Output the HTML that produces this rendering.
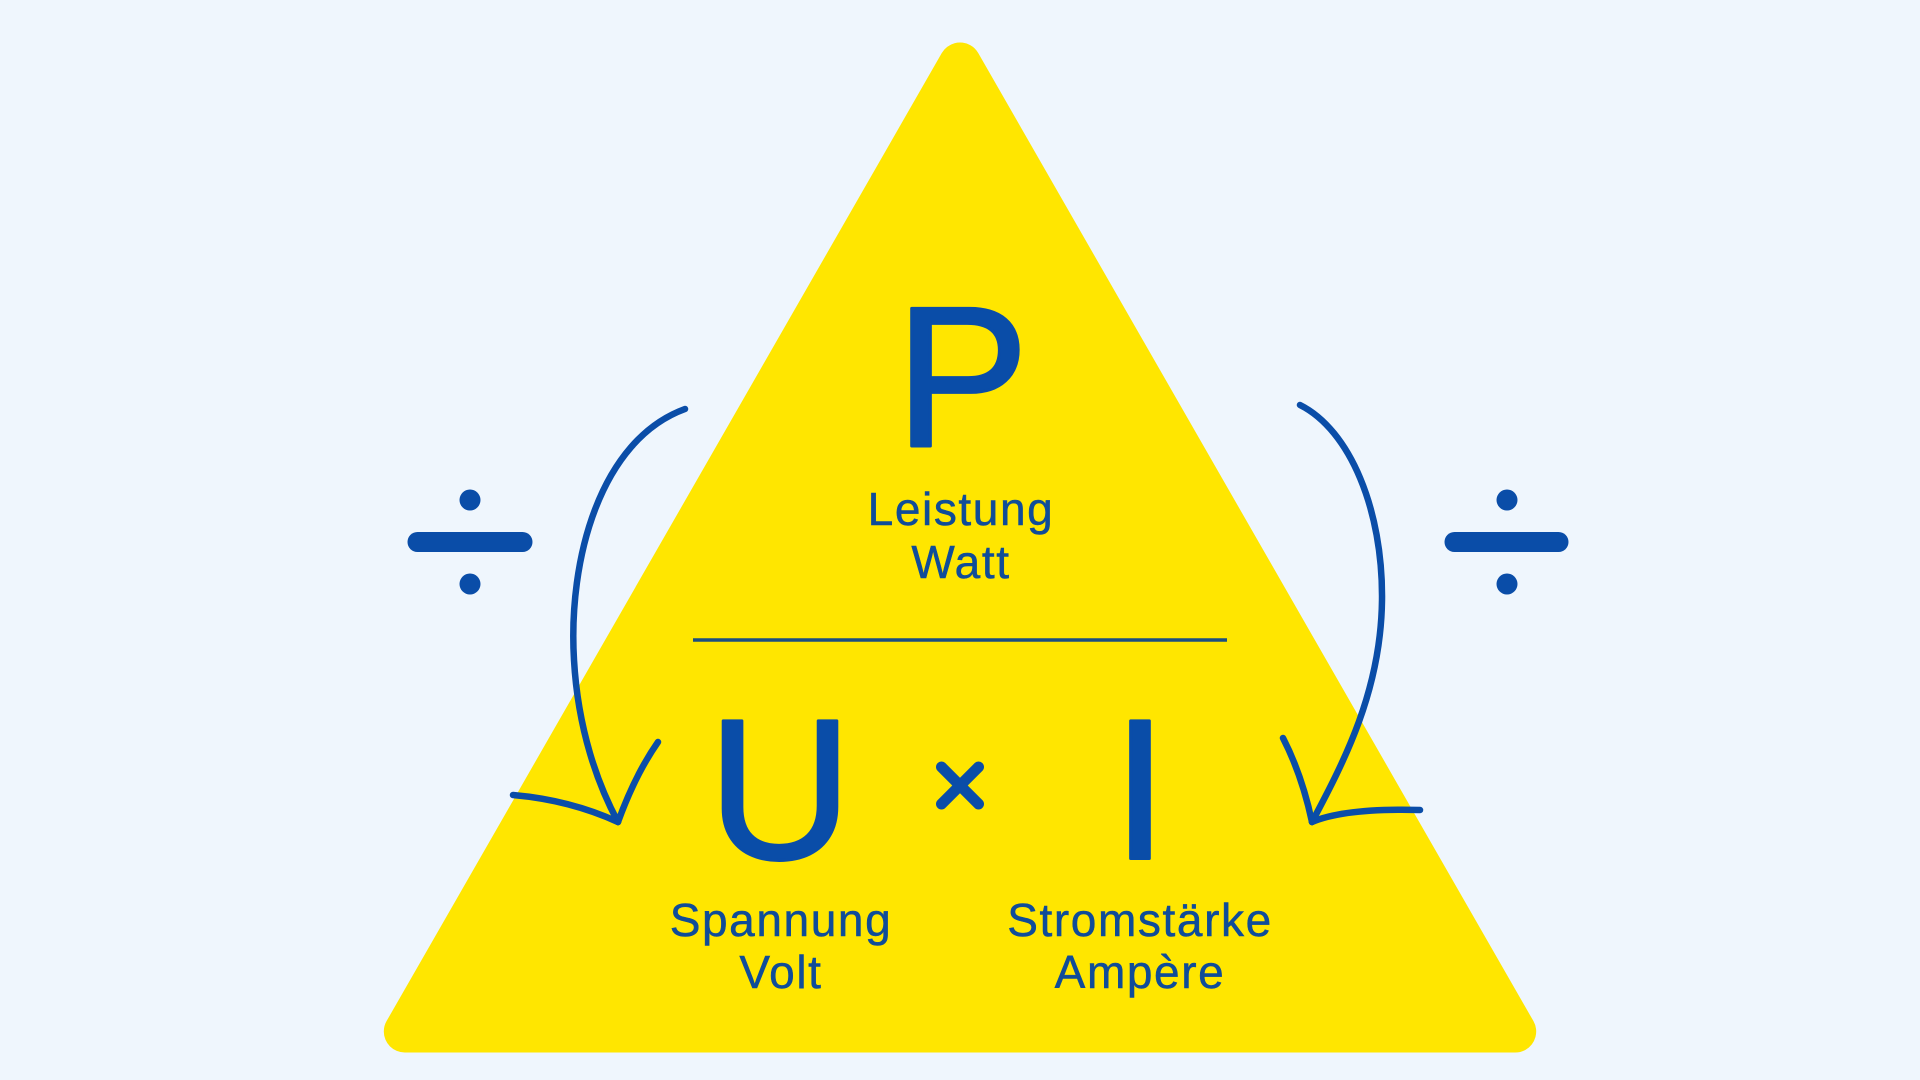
<!DOCTYPE html>
<html>
<head>
<meta charset="utf-8">
<style>
  html, body { margin: 0; padding: 0; }
  body { width: 1920px; height: 1080px; background: #eff6fd; overflow: hidden; }
  svg { display: block; }
  .big { font-family: "Liberation Sans", "DejaVu Sans", sans-serif; font-size: 200px; fill: #0a4da8; stroke: #0a4da8; stroke-width: 3; stroke-linejoin: round; }
  .lbl { font-family: "Liberation Sans", "DejaVu Sans", sans-serif; font-size: 46px; fill: #0f4c99; stroke: #0f4c99; stroke-width: 0.5; letter-spacing: 1.6px; }
</style>
</head>
<body>
<svg width="1920" height="1080" viewBox="0 0 1920 1080" xmlns="http://www.w3.org/2000/svg">
  <rect x="0" y="0" width="1920" height="1080" fill="#eff6fd"/>

  <!-- rounded yellow triangle -->
  <polygon points="404.8,1031.5 960,63.5 1515.2,1031.5" fill="#ffe600" stroke="#ffe600" stroke-width="42" stroke-linejoin="round"/>

  <!-- P -->
  <text class="big" x="962" y="446" text-anchor="middle">P</text>
  <text class="lbl" x="961" y="525" text-anchor="middle">Leistung</text>
  <text class="lbl" x="961" y="578" text-anchor="middle">Watt</text>

  <!-- fraction line -->
  <line x1="693" y1="640" x2="1227" y2="640" stroke="#1c4f80" stroke-width="3.5"/>

  <!-- U x I -->
  <text class="big" x="780" y="858.5" text-anchor="middle">U</text>
  <text class="big" x="1140" y="858.5" text-anchor="middle">I</text>
  <g stroke="#0a4da8" stroke-width="11" stroke-linecap="round">
    <line x1="941.5" y1="767" x2="978.5" y2="804"/>
    <line x1="978.5" y1="767" x2="941.5" y2="804"/>
  </g>

  <text class="lbl" x="781" y="936" text-anchor="middle">Spannung</text>
  <text class="lbl" x="781" y="988" text-anchor="middle">Volt</text>
  <text class="lbl" x="1140" y="936" text-anchor="middle">Stromstärke</text>
  <text class="lbl" x="1140" y="988" text-anchor="middle">Ampère</text>

  <!-- divide signs -->
  <g fill="#0a4da8">
    <circle cx="470" cy="500" r="10.5"/>
    <circle cx="470" cy="584" r="10.5"/>
    <circle cx="1507" cy="500" r="10.5"/>
    <circle cx="1507" cy="584" r="10.5"/>
  </g>
  <g stroke="#0a4da8" stroke-width="20" stroke-linecap="round">
    <line x1="417.5" y1="542" x2="522.5" y2="542"/>
    <line x1="1454.5" y1="542" x2="1558.5" y2="542"/>
  </g>

  <!-- curved arrows -->
  <g fill="none" stroke="#0a4da8" stroke-width="6.5" stroke-linecap="round" stroke-linejoin="round">
    <path d="M685,409 C600,440 568,560 574,660 C578,730 598,785 618,822"/>
    <path d="M513,795 Q570,800 618,822"/>
    <path d="M658,742 Q635,775 618,822"/>

    <path d="M1300,405 C1350,430 1383,510 1382,600 C1381,690 1345,760 1312,822"/>
    <path d="M1283,738 Q1302,775 1312,822"/>
    <path d="M1312,822 Q1345,808 1420,810"/>
  </g>
</svg>
</body>
</html>
